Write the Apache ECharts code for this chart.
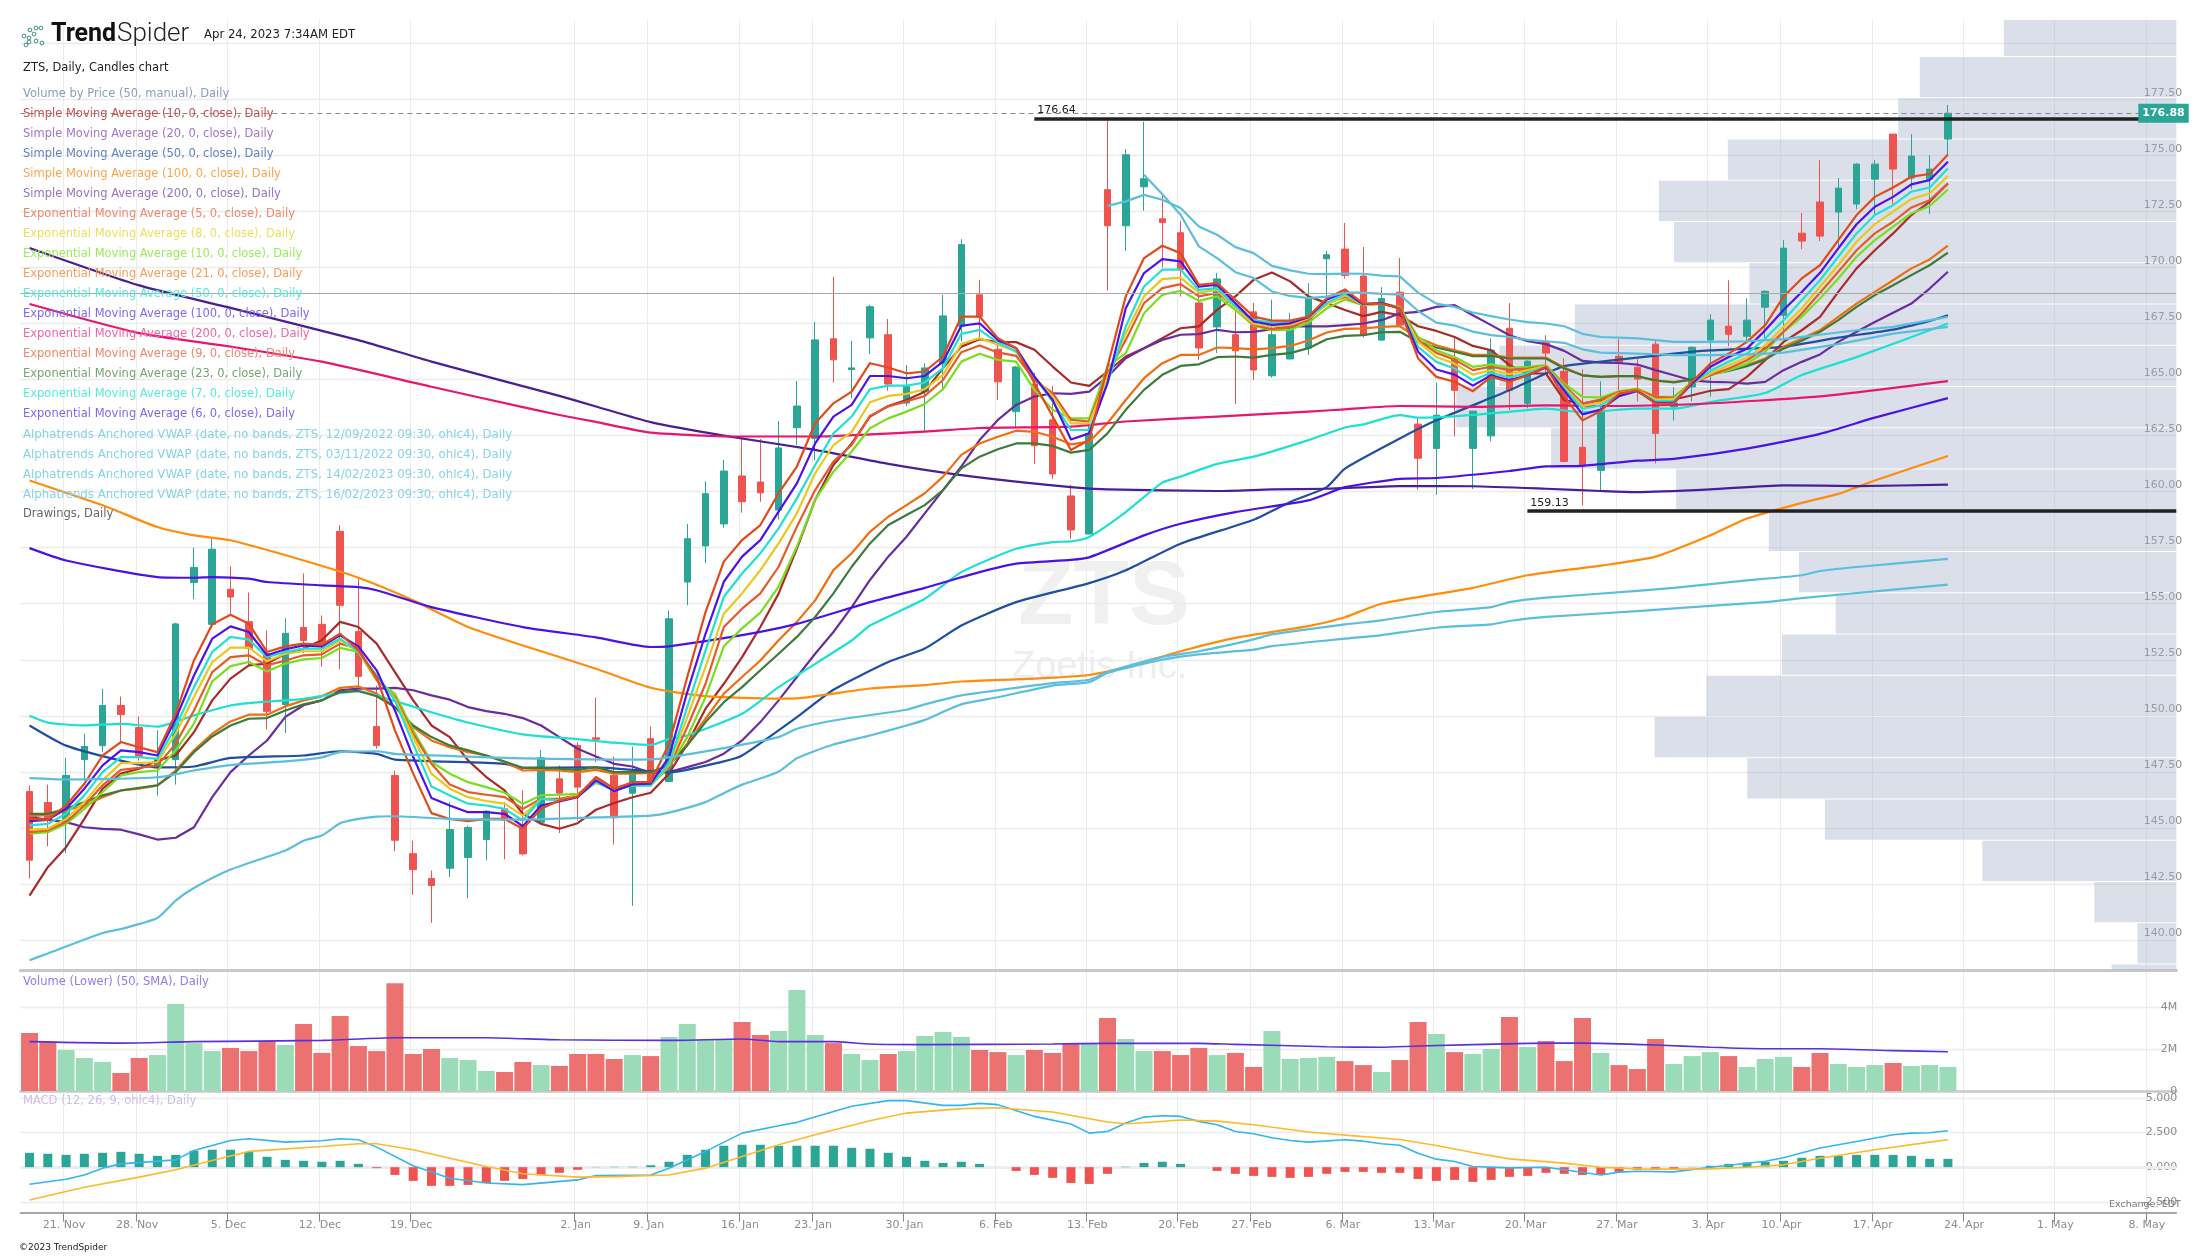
<!DOCTYPE html>
<html><head><meta charset="utf-8">
<style>html,body{margin:0;padding:0;background:#fff}#c{width:2207px;height:1259px}</style>
<script src="https://cdn.jsdelivr.net/npm/echarts@6/dist/echarts.min.js"></script>
</head><body><div id="c"></div>
<script>
const categories=["Nov 17","Nov 18","Nov 21","Nov 22","Nov 23","Nov 25","Nov 28","Nov 29","Nov 30","Dec 1","Dec 2","Dec 5","Dec 6","Dec 7","Dec 8","Dec 9","Dec 12","Dec 13","Dec 14","Dec 15","Dec 16","Dec 19","Dec 20","Dec 21","Dec 22","Dec 23","Dec 27","Dec 28","Dec 29","Dec 30","Jan 3","Jan 4","Jan 5","Jan 6","Jan 9","Jan 10","Jan 11","Jan 12","Jan 13","Jan 17","Jan 18","Jan 19","Jan 20","Jan 23","Jan 24","Jan 25","Jan 26","Jan 27","Jan 30","Jan 31","Feb 1","Feb 2","Feb 3","Feb 6","Feb 7","Feb 8","Feb 9","Feb 10","Feb 13","Feb 14","Feb 15","Feb 16","Feb 17","Feb 21","Feb 22","Feb 23","Feb 24","Feb 27","Feb 28","Mar 1","Mar 2","Mar 3","Mar 6","Mar 7","Mar 8","Mar 9","Mar 10","Mar 13","Mar 14","Mar 15","Mar 16","Mar 17","Mar 20","Mar 21","Mar 22","Mar 23","Mar 24","Mar 27","Mar 28","Mar 29","Mar 30","Mar 31","Apr 3","Apr 4","Apr 5","Apr 6","Apr 10","Apr 11","Apr 12","Apr 13","Apr 14","Apr 17","Apr 18","Apr 19","Apr 20","Apr 21","Apr 24","Apr 25","Apr 26","Apr 27","Apr 28","May 1","May 2","May 3","May 4","May 5","May 8","May 9"];
const tickLabels={"Nov 21":"21. Nov","Nov 28":"28. Nov","Dec 5":"5. Dec","Dec 12":"12. Dec","Dec 19":"19. Dec","Jan 3":"2. Jan","Jan 9":"9. Jan","Jan 17":"16. Jan","Jan 23":"23. Jan","Jan 30":"30. Jan","Feb 6":"6. Feb","Feb 13":"13. Feb","Feb 21":"20. Feb","Feb 27":"27. Feb","Mar 6":"6. Mar","Mar 13":"13. Mar","Mar 20":"20. Mar","Mar 27":"27. Mar","Apr 3":"3. Apr","Apr 10":"10. Apr","Apr 17":"17. Apr","Apr 24":"24. Apr","May 1":"1. May","May 8":"8. May"};
// open, close, low, high
const candles=[[146.62,143.56,142.75,146.89],[146.13,145.33,144.18,146.93],[145.33,147.34,143.87,148.12],[148.05,148.63,147.1,149.2],[148.67,150.46,148.38,151.2],[150.46,150.06,148.75,150.86],[149.48,148.19,148,149.97],[147.7,148.1,146.44,149.35],[148.05,154.1,146.93,154.15],[155.95,156.62,155.2,157.5],[154.08,157.43,153.9,157.9],[155.64,155.3,154.55,156.67],[154.2,153,152.2,155.5],[152.77,150.2,149.39,153.8],[150.5,153.68,149.23,154.35],[153.94,153.36,152.8,156.35],[154.08,153.14,152.2,154.48],[158.23,154.93,152.08,158.5],[153.76,151.76,151.3,156.1],[149.52,148.68,148.53,151.35],[147.34,144.45,143.96,147.56],[143.85,143.14,142.02,144.43],[142.74,142.43,140.77,143.1],[143.2,144.93,142.8,146.15],[143.68,145.02,141.86,145.1],[144.48,145.75,143.55,145.77],[145.85,145.33,143.6,146.15],[145.1,143.84,143.77,146.67],[145.25,148.13,145.2,148.48],[147.19,146.55,144.77,147.78],[148.68,146.82,145.33,148.82],[149.02,148.95,147.93,150.82],[147.34,145.45,144.26,148.18],[146.55,147.41,141.53,148.63],[148.98,147.04,147.04,149.52],[147.07,154.33,147.05,154.7],[155.97,157.9,154.93,158.55],[157.58,159.91,156.82,160.46],[158.56,160.92,158.39,161.41],[160.7,159.55,159.06,162.35],[160.43,159.95,159.55,162.35],[159.18,161.95,158.76,163.15],[162.85,163.82,162.08,164.94],[162.38,166.77,161.4,167.57],[166.82,165.88,164.87,169.58],[165.45,165.52,164.17,166.73],[166.86,168.25,166.14,168.33],[167,164.8,164.5,167.7],[163.95,164.72,163.82,165.65],[164.46,165.52,162.68,165.73],[165.7,167.84,164.54,168.78],[167.37,171.02,166.7,171.26],[168.78,167.8,166.8,169.45],[166.35,164.9,164.09,166.85],[163.57,165.56,162.83,165.6],[164.8,162.05,161.24,165.3],[163.2,160.79,160.57,164.72],[159.81,158.29,157.89,160.3],[158.11,162.6,158.1,163.28],[173.47,171.86,168.97,176.56],[171.86,175.03,170.74,175.28],[173.6,173.96,172.53,176.5],[172.17,172,170,173.29],[171.55,169.9,168.7,172.08],[168.42,166.41,165.88,169.3],[167.35,169.49,166.18,169.76],[167,166.28,163.91,168.08],[168.02,165.43,164.98,168.42],[165.17,167,165.09,168.56],[165.92,167.5,165.9,167.96],[166.4,168.63,166.1,169.3],[170.39,170.57,168.7,170.74],[170.82,169.64,169.5,171.99],[169.62,166.98,166.87,170.91],[166.76,168.62,166.73,169.12],[168.9,167.43,167.4,170.42],[163.01,161.49,160.09,163.29],[161.93,163.41,159.85,164.87],[165.94,164.52,162.47,166.89],[161.93,163.59,160.12,163.6],[162.49,166.31,162.25,166.84],[167.29,164.52,163.63,168.41],[163.94,165.82,163.72,165.86],[166.67,166.18,165.27,166.98],[165.37,161.35,161.31,165.95],[161.98,161.18,159.39,165.46],[160.95,163.6,160.06,164.93],[166.04,165.77,164.52,166.8],[165.55,165.02,164.03,165.91],[166.58,162.6,161.26,166.8],[163.78,163.96,163.18,164.66],[164.67,166.44,164.03,166.49],[166.76,167.65,164.23,167.92],[167.38,167.02,166.49,169.43],[166.93,167.65,166.7,168.63],[168.23,168.94,166.77,168.98],[167.87,170.86,166.76,171.22],[171.53,171.18,170.82,172.43],[172.92,171.4,171.18,174.79],[172.47,173.54,170.92,173.99],[172.83,174.61,172.6,174.66],[173.94,174.61,172.34,174.79],[175.95,174.39,172.83,175.95],[173.99,174.97,173.5,175.95],[173.94,174.39,172.38,175.01],[175.73,176.88,175,177.25]];
const sma10=[141.98,143.25,144.14,145.4,146.75,147.42,147.64,148.01,148.23,149.27,150.69,151.66,152.25,152.33,152.77,153,153.37,154.19,153.96,153.22,151.95,150.69,149.57,149.05,148.01,147.27,146.67,145.63,145.18,144.96,145.21,145.81,146.11,146.37,146.57,147.42,148.75,150.32,151.43,152.62,153.96,155.45,157.46,159.63,161.19,162.15,163.35,163.82,164.09,164.46,165.51,166.47,166.8,166.67,166.67,166.33,165.58,164.87,164.72,165.36,166.03,166.4,166.85,167.29,167.37,168.11,168.71,169.45,169.78,169.38,168.71,168.41,168.1,167.83,168.02,167.87,167.38,167.17,166.9,166.5,166.31,165.64,165.27,165.27,164.08,163.93,164.08,164.3,164.52,164.23,164.11,164.3,164.5,164.57,165.12,165.86,166.68,167.2,167.8,168.91,169.96,170.77,171.52,172.34,172.93,173.75];
const sma20=[145.48,145.36,145.26,145.03,144.96,144.92,144.71,144.48,144.56,145.03,146.37,147.49,148.23,148.9,149.95,150.47,150.69,151.14,151.21,151.21,151.25,151.14,150.91,150.72,150.39,150.21,150.09,149.9,149.57,149.05,148.53,148.19,147.86,147.74,147.45,147.49,147.71,147.94,148.31,148.9,149.72,150.69,151.73,152.77,153.74,154.85,156.06,157.1,157.99,159.03,160.07,161.12,162.3,163.2,163.87,164.24,164.39,164.36,164.46,165.13,165.95,166.4,166.77,167,167.03,167.22,167.11,167.13,167.25,167.37,167.37,167.37,167.43,167.5,167.65,167.95,168.02,168.24,168.32,167.87,167.43,166.98,166.71,166.58,166.28,165.83,165.76,165.74,165.67,165.42,165.19,164.96,164.9,164.88,164.82,164.9,165.42,165.79,166.12,166.68,167.13,167.57,167.98,168.39,169.06,169.81];
const ema5=[145.4,145.36,146,146.97,148.23,148.83,148.6,148.38,150.09,152.47,154.08,154.51,154.11,152.85,153.1,153.22,153.17,153.66,152.92,151.73,149.35,147.42,145.66,145.4,145.3,145.4,145.4,144.96,145.85,146.22,146.4,147.27,146.75,147.04,147.04,148.75,151.73,154.63,156.88,157.84,158.51,159.93,161.12,163.05,163.94,164.46,165.73,165.54,165.28,165.36,166.03,167.81,167.81,166.85,166.4,164.84,163.35,161.86,162.3,165.58,168.71,170.42,170.97,170.64,169.23,169.3,168.56,167.81,167.63,167.63,167.81,168.63,169.02,168.39,168.39,168.17,165.94,165.12,164.9,164.48,165.12,164.9,165.19,165.57,164.23,163.18,163.6,164.37,164.52,163.93,163.93,164.9,165.71,166.16,166.68,167.43,168.69,169.51,170.1,171.22,172.34,173.15,173.57,174.05,174.17,175.04];
const ema6=[145.3,145.36,145.85,146.75,147.79,148.46,148.38,148.23,149.87,151.8,153.44,153.99,153.74,152.7,152.97,153.14,153.1,153.59,153.1,152.03,150.24,148.16,146.33,146,145.7,145.7,145.63,145.08,146,146.18,146.37,147.12,146.64,146.94,146.97,148.16,151.06,153.66,155.98,157.1,157.84,159.11,160.37,162.15,163.35,163.87,165.16,165.16,165.06,165.16,165.8,167.4,167.51,166.77,166.4,165.13,164.09,162.33,162.6,164.84,168.18,169.75,170.37,170.27,169.15,169.23,168.41,167.59,167.44,167.51,167.78,168.56,168.91,168.36,168.42,168.17,166.24,165.45,165.22,164.73,165.19,164.97,165.19,165.54,164.52,163.45,163.66,164.26,164.49,163.96,163.97,164.82,165.57,166.01,166.38,167.2,168.1,168.91,169.76,170.85,171.93,172.71,173.15,173.71,173.9,174.72];
const ema7=[145.11,145.18,145.63,146.45,147.49,148.16,148.16,148.08,149.5,151.28,152.85,153.52,153.4,152.62,152.85,153,153,153.44,152.85,151.8,150.69,148.75,146.85,146.45,146.08,146,145.85,145.33,146.3,146.22,146.4,147.04,146.67,146.9,146.9,147.86,150.39,152.92,155.31,156.35,157.25,158.36,159.7,161.19,162.6,163.35,164.57,164.73,164.73,164.87,165.51,167.04,167.22,166.65,166.25,165.13,164.02,162.75,162.75,164.84,167.37,169.15,169.9,169.9,169,169.08,168.26,167.66,167.54,167.59,167.78,168.41,168.84,168.35,168.42,168.17,166.46,165.79,165.49,164.97,165.3,165.09,165.3,165.57,164.6,163.7,163.85,164.35,164.49,164.03,164.05,164.82,165.39,165.79,166.16,166.83,167.65,168.54,169.43,170.48,171.52,172.34,172.78,173.38,173.57,174.42];
const ema8=[144.92,144.96,145.4,146.15,147.12,147.89,147.89,147.94,149.2,150.84,152.4,153.04,153.04,152.43,152.77,152.88,152.88,153.37,152.85,151.73,150.76,149.05,147.42,146.75,146.37,146.2,146.08,145.55,146.3,146.22,146.45,147,146.75,146.9,146.9,147.79,149.94,152.18,154.55,155.46,156.5,157.69,159.03,160.82,162.08,162.67,163.99,164.27,164.36,164.57,165.21,166.59,166.85,166.55,166.25,165.13,164.24,163.05,163.05,165.13,167.07,168.71,169.48,169.55,168.88,169,168.18,167.48,167.37,167.44,167.74,168.33,168.76,168.32,168.39,168.2,166.68,166.01,165.71,165.22,165.42,165.24,165.42,165.6,164.67,163.82,163.97,164.4,164.52,164.11,164.14,164.82,165.27,165.64,165.98,166.53,167.35,168.17,169.14,170.1,171.15,171.93,172.49,173.05,173.3,174.08];
const ema9=[144.81,144.89,145.26,146,146.9,147.59,147.68,147.79,148.75,150.24,151.95,152.62,152.7,152.25,152.47,152.7,152.74,153.22,153,151.61,150.84,149.2,147.86,146.94,146.6,146.48,146.37,145.85,146.3,146.3,146.45,147.24,146.75,147,147,147.71,149.5,151.43,153.96,154.78,155.46,156.65,158.44,160.07,161.34,162.08,163.38,163.8,164.02,164.27,164.98,166.22,166.52,166.21,166.06,164.98,164.39,163.2,163.13,165.28,166.77,168.41,169.08,169.26,168.71,168.86,168.26,167.44,167.25,167.34,167.66,168.41,168.69,168.32,168.39,168.21,166.76,166.19,165.89,165.42,165.57,165.42,165.49,165.6,164.75,163.93,164.11,164.45,164.55,164.23,164.18,164.82,165.19,165.49,165.86,166.38,167.13,167.95,168.87,169.81,170.77,171.52,172.04,172.68,173,173.75];
const ema10=[144.74,144.81,145.18,145.85,146.6,147.34,147.49,147.56,148.46,149.65,151.54,152.22,152.4,151.98,152.33,152.52,152.58,153.03,152.85,151.58,150.99,149.35,147.94,147.42,147.04,146.82,146.57,146.08,146.45,146.48,146.52,147.04,146.7,146.9,146.9,147.71,149.05,150.84,153.1,153.9,154.6,155.76,157.55,159.63,160.89,161.79,162.83,163.27,163.57,163.91,164.57,165.8,166.15,165.88,165.8,164.54,163.65,163.27,163.27,165.58,166.18,167.96,168.78,168.96,168.51,168.71,168.11,167.4,167.2,167.22,167.54,168.18,168.57,168.32,168.39,168.24,166.9,166.31,166.01,165.57,165.68,165.52,165.57,165.64,164.82,164.23,164.2,164.48,164.6,164.23,164.23,164.9,165.19,165.42,165.71,166.24,167.13,167.8,168.62,169.51,170.48,171.22,171.82,172.41,172.74,173.48];
const ema21=[145.51,145.58,145.78,146,146.37,146.67,146.75,146.9,147.56,148.46,149.2,149.75,150.05,150.05,150.42,150.69,150.87,151.25,151.31,150.99,150.39,149.5,148.9,148.6,148.38,148.23,147.94,147.56,147.59,147.56,147.49,147.59,147.42,147.42,147.45,147.79,148.75,149.87,150.99,151.73,152.47,153.37,154.19,155.15,156.5,157.25,158.21,158.88,159.4,159.93,160.67,161.64,162.15,162.45,162.72,162.67,162.45,162.11,162.23,163.05,164.09,165.06,165.73,166.1,166.1,166.43,166.4,166.35,166.4,166.5,166.74,167.1,167.26,167.28,167.35,167.38,166.86,166.53,166.31,166.1,166.1,165.98,165.98,165.98,165.54,165.19,165.12,165.15,165.15,164.94,164.9,165,165.27,165.45,165.64,165.94,166.46,166.83,167.2,167.8,168.39,168.91,169.43,169.96,170.36,170.97];
const ema23=[145.63,145.63,145.85,146.15,146.45,146.67,146.79,146.9,147.49,148.38,149.08,149.57,149.87,149.9,150.24,150.51,150.69,151.06,151.11,150.87,150.39,149.57,149.05,148.68,148.46,148.23,147.96,147.68,147.68,147.64,147.59,147.71,147.49,147.49,147.49,147.79,148.68,149.72,150.61,151.28,152.03,152.77,153.52,154.41,155.46,156.65,157.69,158.51,158.96,159.4,160.07,161.04,161.56,161.89,162.15,162.15,162.04,161.74,161.86,162.6,163.65,164.54,165.21,165.61,165.68,166,166.03,165.98,166.1,166.18,166.4,166.8,166.95,166.98,167.11,167.13,166.68,166.43,166.24,166.04,166.06,165.94,165.94,165.94,165.49,165.19,165.12,165.15,165.15,164.97,164.87,165.01,165.24,165.39,165.6,165.89,166.38,166.73,167.13,167.65,168.24,168.77,169.21,169.66,170.1,170.66];
// slower lines: [bar index, value] readings at the bends
const sma50=[[0,149.57],[2,148.67],[5,148],[7,147.7],[9,147.74],[11,148.12],[15,148.23],[17,148.42],[19,148.3],[20,148.05],[26,147.86],[27,147.68],[31,147.7],[35,147.48],[38,147.97],[39,148.23],[42,149.94],[44,151.16],[47,152.4],[49,153],[51,154.03],[54,155.07],[58,155.92],[60,156.49],[63,157.68],[67,158.75],[69,159.54],[71,160.2],[72,161.03],[75,162.37],[77,163.18],[81,164.52],[83,165.27],[84,165.6],[87,165.89],[90,166.16],[92,166.3],[94,166.38],[96,166.46],[99,166.87],[102,167.23],[104,167.62],[105,167.87]];
const sma100=[[0,160.5],[4,159.39],[7,158.42],[9,158.05],[11,157.83],[15,156.93],[18,156.16],[21,155.15],[24,153.96],[27,153.14],[31,152.1],[34,151.25],[37,150.88],[41,150.77],[42,150.78],[46,151.22],[49,151.37],[51,151.53],[54,151.63],[56,151.7],[58,151.82],[60,152.17],[63,152.88],[66,153.48],[70,154],[72,154.4],[74,155],[79,155.71],[82,156.27],[86,156.7],[89,157.1],[92,158.05],[94,158.8],[97,159.5],[99,159.9],[101,160.5],[105,161.59]];
const sma200=[[0,170.87],[6,169.2],[11,168.2],[18,166.76],[22,165.8],[29,164.27],[31,163.8],[34,163.1],[38,162.5],[43,161.86],[47,161.24],[51,160.74],[57,160.2],[59,160.1],[65,160.03],[68,160.1],[71,160.13],[75,160.25],[79,160.24],[83,160.13],[86,160.03],[88,159.98],[92,160.1],[96,160.28],[100,160.25],[105,160.31]];
const ema50=[[0,150],[1,149.7],[3,149.57],[5,149.64],[7,149.52],[9,150.02],[11,150.46],[12,150.57],[15,150.76],[18,151.1],[19,150.9],[22,150.16],[24,149.7],[27,149.17],[30,148.96],[32,148.8],[34,148.7],[35,148.97],[36,149.12],[39,150.09],[41,151.28],[45,153.36],[46,154.03],[49,155.22],[51,156.41],[54,157.45],[56,157.75],[57,157.78],[58,157.98],[60,159.09],[62,160.4],[63,160.67],[65,161.24],[67,161.56],[70,162.3],[72,162.86],[73,163],[75,163.41],[76,163.3],[78,163.36],[81,163.56],[83,163.7],[85,163.54],[88,163.7],[90,163.7],[92,164],[95,164.4],[97,165.2],[100,166],[105,167.5]];
const ema100=[[0,157.48],[2,156.93],[7,156.19],[9,156.16],[10,156.19],[12,156.12],[13,155.97],[16,155.82],[18,155.74],[19,155.6],[22,154.85],[27,153.96],[31,153.5],[34,153.07],[35,153.1],[39,153.6],[42,154.1],[46,155.07],[49,155.71],[52,156.41],[54,156.79],[57,156.96],[58,157.07],[61,158.05],[63,158.57],[66,159.09],[70,159.61],[72,160.2],[75,160.57],[77,160.61],[81,160.92],[83,161.13],[85,161.15],[88,161.38],[90,161.46],[94,161.92],[98,162.58],[101,163.3],[105,164.17]];
const ema200=[[0,168.37],[6,167.07],[11,166.47],[16,165.8],[22,164.68],[27,163.77],[29,163.42],[31,163.11],[34,162.63],[39,162.46],[43,162.46],[49,162.68],[52,162.84],[57,162.9],[60,163.13],[65,163.35],[70,163.57],[72,163.67],[75,163.82],[79,163.78],[83,163.85],[86,163.82],[91,163.9],[98,164.25],[105,164.93]];
const vwapDec=[[0,147.22],[2,147.16],[7,147.26],[9,147.56],[11,147.8],[14,147.97],[16,148.15],[17,148.38],[19,148.42],[20,148.3],[24,148.18],[27,148.1],[32,148.05],[34,148.06],[35,148.15],[38,148.56],[41,149.05],[42,149.42],[44,149.79],[48,150.27],[49,150.51],[51,150.91],[54,151.25],[56,151.46],[58,151.61],[59,151.95],[62,152.62],[64,152.88],[67,153.41],[68,153.63],[72,154.08],[74,154.26],[77,154.63],[80,154.85],[81,155.07],[83,155.27],[88,155.57],[90,155.71],[94,156.04],[97,156.27],[98,156.46],[100,156.64],[105,157]];
const vwapNov=[[0,139.1],[1,139.4],[4,140.31],[5,140.49],[7,140.98],[8,141.76],[9,142.32],[11,143.14],[14,143.99],[15,144.43],[16,144.66],[17,145.21],[18,145.4],[19,145.5],[20,145.52],[23,145.4],[27,145.37],[31,145.47],[34,145.55],[35,145.68],[37,146.15],[38,146.55],[39,146.93],[41,147.51],[42,148.11],[44,148.72],[46,149.12],[48,149.57],[49,149.82],[51,150.51],[53,150.83],[56,151.35],[58,151.5],[59,151.91],[62,152.5],[64,152.74],[67,152.95],[68,153.11],[72,153.44],[74,153.6],[77,153.93],[80,154.08],[81,154.23],[83,154.41],[88,154.67],[91,154.85],[95,155.07],[97,155.25],[99,155.4],[105,155.85]];
const vwapFeb14=[[59,172.75],[60,172.95],[61,173.24],[62,173.02],[63,172.65],[64,171.83],[65,171.46],[66,170.91],[67,170.64],[68,170.07],[69,169.87],[70,169.72],[71,169.7],[72,169.73],[73,169.72],[74,169.64],[75,169.6],[76,168.88],[77,168.39],[78,168.24],[79,167.99],[80,167.83],[81,167.68],[82,167.56],[83,167.5],[84,167.38],[85,167.04],[86,166.9],[87,166.87],[88,166.84],[89,166.76],[90,166.68],[92,166.68],[94,166.71],[96,166.8],[100,167.2],[102,167.35],[105,167.8]];
const vwapFeb16=[[61,174.14],[62,173.27],[63,172.35],[64,170.94],[65,170.42],[66,169.79],[67,169.53],[68,168.93],[69,168.73],[70,168.63],[71,168.7],[72,168.88],[73,168.88],[74,168.82],[75,168.79],[76,168.06],[77,167.54],[78,167.41],[79,167.14],[80,166.98],[81,166.9],[82,166.77],[83,166.71],[84,166.64],[85,166.35],[86,166.2],[88,166.16],[89,166.13],[90,166.09],[92,166.09],[94,166.12],[95,166.16],[96,166.2],[99,166.58],[102,167.05],[105,167.35]];
const volume=[2.77,2.36,1.96,1.58,1.39,.86,1.58,1.72,4.16,2.29,1.91,2.06,1.91,2.39,2.2,3.2,1.82,3.59,2.15,1.91,5.16,1.77,2.01,1.58,1.48,.96,.91,1.39,1.24,1.2,1.77,1.77,1.53,1.72,1.67,2.58,3.2,2.49,2.49,3.3,2.68,2.87,4.83,2.68,2.29,1.77,1.48,1.77,1.91,2.63,2.82,2.58,1.96,1.86,1.72,1.96,1.82,2.29,2.25,3.49,2.49,1.91,1.91,1.72,2.06,1.72,1.82,1.15,2.87,1.53,1.58,1.63,1.43,1.24,.91,1.48,3.3,2.73,1.86,1.77,2.01,3.54,2.1,2.39,1.43,3.49,1.82,1.24,1.05,2.49,1.29,1.67,1.86,1.67,1.15,1.53,1.63,1.15,1.82,1.29,1.15,1.24,1.34,1.2,1.24,1.15];
const volumeSma=[[0,2.36],[5,2.29],[9,2.36],[16,2.42],[20,2.55],[25,2.55],[29,2.45],[35,2.42],[39,2.49],[41,2.36],[44,2.36],[46,2.25],[49,2.22],[56,2.25],[59,2.28],[64,2.28],[66,2.23],[71,2.12],[74,2.09],[76,2.15],[82,2.28],[85,2.29],[89,2.2],[92,2.09],[95,2.02],[98,2.02],[102,1.93],[105,1.88]];
const macdHist=[1.04,.97,.89,.97,1.04,1.11,.97,.82,.89,1.18,1.26,1.26,1.11,.75,.53,.46,.39,.46,.24,-.07,-.56,-.99,-1.35,-1.35,-1.28,-1.14,-.99,-.85,-.58,-.41,-.19,.02,.03,.03,.14,.39,.89,1.26,1.55,1.62,1.62,1.55,1.55,1.55,1.55,1.4,1.33,1.04,.75,.46,.31,.39,.24,0,-.27,-.56,-.77,-1.14,-1.21,-.48,.03,.31,.39,.24,0,-.27,-.48,-.63,-.7,-.77,-.7,-.48,-.34,-.34,-.41,-.41,-.85,-.99,-.92,-1.06,-.92,-.7,-.63,-.41,-.48,-.56,-.56,-.34,-.19,-.19,-.19,.02,.1,.24,.34,.39,.46,.68,.82,.82,.89,.89,.89,.82,.6,.6];
const macdLine=[[0,-1.23],[2,-.87],[3,-.56],[4,-.07],[5,.24],[8,.53],[9,1.2],[11,1.93],[12,2.05],[14,1.81],[16,1.91],[17,2.05],[18,1.98],[19,1.45],[21,.1],[23,-.8],[25,-1.14],[27,-1.26],[30,-.92],[31,-.6],[34,-.56],[35,-.07],[37,1.14],[39,2.46],[41,3],[42,3.24],[45,4.4],[47,4.81],[48,4.81],[50,4.47],[51,4.47],[52,4.61],[53,4.52],[55,3.67],[57,3.12],[58,2.46],[59,2.58],[60,3.19],[61,3.62],[62,3.72],[63,3.67],[64,3.31],[65,3.07],[66,2.58],[67,2.42],[68,2.13],[69,1.93],[70,1.81],[72,1.98],[73,1.88],[74,1.69],[75,1.59],[76,1.01],[77,.58],[78,.41],[79,.05],[81,-.05],[83,0],[84,-.19],[86,-.56],[87,-.36],[88,-.29],[90,-.34],[92,0],[93,.14],[95,.43],[96,.68],[98,1.38],[100,1.86],[102,2.34],[103,2.46],[104,2.49],[105,2.63]];
const macdSignal=[[0,-2.37],[2,-1.76],[3,-1.45],[6,-.72],[8,-.19],[10,.48],[12,1.14],[16,1.5],[18,1.69],[19,1.69],[21,1.26],[23,.65],[25,.05],[27,-.48],[30,-.72],[32,-.68],[35,-.56],[37,-.07],[39,.77],[41,1.62],[43,2.34],[46,3.36],[48,3.91],[51,4.23],[53,4.3],[56,3.99],[59,3.26],[60,3.14],[61,3.21],[63,3.41],[65,3.33],[67,3.07],[70,2.54],[72,2.32],[75,2],[77,1.57],[79,1.06],[81,.6],[84,.29],[86,0],[88,-.12],[90,-.14],[92,-.12],[94,0],[96,.17],[98,.65],[101,1.26],[104,1.81],[105,1.98]];
const vbpLow=[137.11,138.95,140.79,142.63,144.47,146.31,148.15,149.99,151.83,153.67,155.51,157.35,159.19,161.03,162.87,164.71,166.55,168.39,170.23,172.07,173.91,175.75,177.59,179.43];
const vbpShare=[3,1.8,3.8,9,16.3,19.9,24.2,21.8,18.3,15.8,17.5,18.9,23.2,29,33.4,31.4,27.9,19.8,23.3,24,20.8,12.9,11.9,8];
const priceTicks=[140,142.5,145,147.5,150,152.5,155,157.5,160,162.5,165,167.5,170,172.5,175,177.5];
const macdTicks=[-2.5,0,2.5,5];
const legendLabels=[["Volume by Price (50, manual), Daily","#8b9dbd"],["Simple Moving Average (10, 0, close), Daily","#c4514f"],["Simple Moving Average (20, 0, close), Daily","#a374c9"],["Simple Moving Average (50, 0, close), Daily","#5f83c2"],["Simple Moving Average (100, 0, close), Daily","#ffa44a"],["Simple Moving Average (200, 0, close), Daily","#9273c1"],["Exponential Moving Average (5, 0, close), Daily","#f2866a"],["Exponential Moving Average (8, 0, close), Daily","#ebdf5c"],["Exponential Moving Average (10, 0, close), Daily","#9aec58"],["Exponential Moving Average (21, 0, close), Daily","#f99c58"],["Exponential Moving Average (50, 0, close), Daily","#55e9da"],["Exponential Moving Average (100, 0, close), Daily","#8166f2"],["Exponential Moving Average (200, 0, close), Daily","#f264a3"],["Exponential Moving Average (9, 0, close), Daily","#f2866a"],["Exponential Moving Average (23, 0, close), Daily","#75a575"],["Exponential Moving Average (7, 0, close), Daily","#55ecda"],["Exponential Moving Average (6, 0, close), Daily","#8166f2"],["Alphatrends Anchored VWAP (date, no bands, ZTS, 12/09/2022 09:30, ohlc4), Daily","#85d3e9"],["Alphatrends Anchored VWAP (date, no bands, ZTS, 03/11/2022 09:30, ohlc4), Daily","#85d3e9"],["Alphatrends Anchored VWAP (date, no bands, ZTS, 14/02/2023 09:30, ohlc4), Daily","#85d3e9"],["Alphatrends Anchored VWAP (date, no bands, ZTS, 16/02/2023 09:30, ohlc4), Daily","#85d3e9"],["Drawings, Daily","#666666"]];

const UP='#2aa596',DOWN='#ef5350',FONT='"DejaVu Sans"',GRID='#ececec',AXT='#8c8c8c';
const hasTick=(i,v)=>!!tickLabels[v];
const mainLine=(name,data,color,smooth)=>({name,type:'line',xAxisIndex:1,yAxisIndex:1,data,showSymbol:false,silent:true,z:3,clip:true,smooth:smooth||false,lineStyle:{color,width:2.2,join:'round'}});
const series=[
 {name:'Volume by Price',type:'custom',xAxisIndex:2,yAxisIndex:1,z:1,silent:true,clip:true,
  data:vbpLow.map((p,i)=>[vbpShare[i],p,i<vbpLow.length-1?vbpLow[i+1]:p+1.84]),
  renderItem:(params,api)=>{const a=api.coord([api.value(0),api.value(2)]),b=api.coord([0,api.value(1)]);
    return {type:'rect',shape:{x:a[0],y:a[1]+1,width:b[0]-a[0],height:b[1]-a[1]-1},style:{fill:'rgba(166,179,204,0.42)'}};}},
 {name:'ZTS',type:'candlestick',xAxisIndex:1,yAxisIndex:1,data:candles,barWidth:7,z:2,silent:true,
  itemStyle:{color:UP,color0:DOWN,borderColor:UP,borderColor0:DOWN,borderWidth:1},
  markLine:{silent:true,symbol:'none',animation:false,data:[
    {yAxis:168.85,lineStyle:{color:'#a8a8a8',type:'solid',width:1},label:{show:false}},
    {yAxis:176.88,lineStyle:{color:'#8a8a8a',type:[5,4],width:1.2},label:{show:true,position:'end',distance:-38,formatter:'176.88',color:'#fff',fontFamily:FONT,fontSize:11,fontWeight:'bold',backgroundColor:UP,padding:[4,4]}}]}},
 mainLine('SMA 10',sma10,'#a82b2b'),
 mainLine('SMA 20',sma20,'#6a2c9e'),
 mainLine('SMA 50',sma50,'#1f4f9e',0.2),
 mainLine('SMA 100',sma100,'#ff8c0a',0.2),
 mainLine('SMA 200',sma200,'#4a1e94',0.2),
 mainLine('EMA 21',ema21,'#ee6f10'),
 mainLine('EMA 50',ema50,'#1de0d2',0.2),
 mainLine('EMA 100',ema100,'#4b12e6',0.2),
 mainLine('EMA 200',ema200,'#e8166f',0.2),
 mainLine('EMA 23',ema23,'#3e7a3c'),
 mainLine('EMA 10',ema10,'#78de1e'),
 mainLine('EMA 9',ema9,'#e55a2a'),
 mainLine('EMA 8',ema8,'#e9c81e'),
 mainLine('EMA 7',ema7,'#22e0d2'),
 mainLine('EMA 6',ema6,'#4b12ea'),
 mainLine('EMA 5',ema5,'#e2491c'),
 mainLine('VWAP 12/09',vwapDec,'#5bbfdc',0.2),
 mainLine('VWAP 03/11',vwapNov,'#5bbfdc',0.2),
 mainLine('VWAP 14/02',vwapFeb14,'#5bbfdc'),
 mainLine('VWAP 16/02',vwapFeb16,'#5bbfdc'),
 {name:'Drawings',type:'line',xAxisIndex:2,yAxisIndex:1,data:[],z:5,silent:true,
  markLine:{silent:true,symbol:'none',animation:false,z:5,lineStyle:{color:'#222',type:'solid',width:3.6},
   label:{show:true,position:'insideStartTop',formatter:'{b}',color:'#222',fontFamily:FONT,fontSize:11,distance:3},
   data:[[{name:'176.64',coord:[52.97,176.64]},{coord:[0,176.64]}],[{name:'159.13',coord:[30.1,159.13]},{coord:[0,159.13]}]]}},
 {name:'Volume',type:'bar',xAxisIndex:3,yAxisIndex:2,barWidth:17,silent:true,
  data:volume.map((v,i)=>({value:v,itemStyle:{color:candles[i][1]>=candles[i][0]?'#9adcb8':'#ec7272'}}))},
 {name:'Volume SMA',type:'line',xAxisIndex:3,yAxisIndex:2,data:volumeSma,smooth:0.2,showSymbol:false,silent:true,z:3,lineStyle:{color:'#5a2fe0',width:1.6}},
 {name:'MACD histogram',type:'bar',xAxisIndex:4,yAxisIndex:3,barWidth:9,silent:true,
  data:macdHist.map(v=>({value:v,itemStyle:{color:v>=0?UP:DOWN}})),
  markLine:{silent:true,symbol:'none',animation:false,z:1,data:[{yAxis:0}],label:{show:false},lineStyle:{color:'#ecedf4',width:3,type:'solid'}}},
 {name:'MACD',type:'line',xAxisIndex:4,yAxisIndex:3,data:macdLine,showSymbol:false,silent:true,z:3,lineStyle:{color:'#33b5ee',width:1.6}},
 {name:'Signal',type:'line',xAxisIndex:4,yAxisIndex:3,data:macdSignal,showSymbol:false,silent:true,z:3,lineStyle:{color:'#fdb92b',width:1.6}},
];
const logoNodes=[[24,36],[30,30],[36,28],[41,28],[34,34],[29,38],[36,41],[42,43],[26,45],[29,42]];
const graphic=[
 {type:'text',left:1018,top:553,z:0,silent:true,style:{text:'ZTS',fill:'#f0f0f0',font:'bold 91px "Liberation Sans"'}},
 {type:'text',left:1012,top:649,z:0,silent:true,style:{text:'Zoetis Inc.',fill:'#eeeeee',font:'38px "Liberation Sans"'}},
 {type:'text',left:51,top:22,z:9,silent:true,style:{text:'Trend',fill:'#111',font:'bold 25px Roboto'}},
 {type:'text',left:117,top:21,z:9,silent:true,style:{text:'Spider',fill:'#222',font:'300 26px Roboto'}},
 {type:'text',left:204,top:29,z:9,silent:true,style:{text:'Apr 24, 2023 7:34AM EDT',fill:'#222',font:'11.7px '+FONT}},
 {type:'text',left:23,top:62,z:9,silent:true,style:{text:'ZTS, Daily, Candles chart',fill:'#222',font:'11.5px '+FONT}},
 {type:'text',left:19,top:1243,z:9,silent:true,style:{text:'©2023 TrendSpider',fill:'#222',font:'9px '+FONT}},
 {type:'text',left:23,top:976,z:9,silent:true,style:{text:'Volume (Lower) (50, SMA), Daily',fill:'#8f7bf2',font:'11.5px '+FONT}},
 {type:'text',left:23,top:1095,z:9,silent:true,style:{text:'MACD (12, 26, 9, ohlc4), Daily',fill:'#cdbfe8',font:'11.5px '+FONT}},
 {type:'text',left:2109,top:1200,z:9,silent:true,style:{text:'Exchange: EDT',fill:'#777',font:'9.5px '+FONT}},
 ...legendLabels.map((l,i)=>({type:'text',left:23,top:88.5+i*20,z:9,silent:true,style:{text:l[0],fill:l[1],font:(l[0].startsWith('Alpha')?'11.77px ':'11.5px ')+FONT}})),
 ...logoNodes.map(n=>({type:'circle',z:9,silent:true,shape:{cx:n[0],cy:n[1],r:1.9},style:{fill:'none',stroke:'#3d8f7f',lineWidth:1}})),
];
const option={
 animation:false,backgroundColor:'#fff',
 grid:[
  {left:26.5,width:2137.6,top:20,height:1192.7},
  {left:20.4,width:2155.9,top:20,height:950.7},
  {left:20.4,width:2155.9,top:971,height:120},
  {left:20.4,width:2155.9,top:1098,height:114.7}],
 xAxis:[
  {type:'category',gridIndex:0,data:categories,boundaryGap:false,axisLine:{show:false},
   axisTick:{show:true,interval:hasTick,length:9,lineStyle:{color:'#888',width:1}},
   splitLine:{show:true,interval:hasTick,lineStyle:{color:GRID,width:1}},
   axisLabel:{interval:hasTick,margin:-4,hideOverlap:false,color:AXT,fontFamily:FONT,fontSize:11,verticalAlign:'top',padding:[11,0,0,2],formatter:v=>tickLabels[v]||''}},
  {type:'category',gridIndex:1,data:categories,axisLine:{show:true,onZero:false,lineStyle:{color:'#c9c9c9',width:3}},axisTick:{show:false},axisLabel:{show:false},splitLine:{show:false}},
  {type:'value',gridIndex:1,position:'top',inverse:true,min:0,max:100,show:false,splitLine:{show:false}},
  {type:'category',gridIndex:2,data:categories,axisLine:{show:true,onZero:false,lineStyle:{color:'#c9c9c9',width:2.5}},axisTick:{show:false},axisLabel:{show:false},splitLine:{show:false}},
  {type:'category',gridIndex:3,data:categories,axisLine:{show:true,onZero:false,lineStyle:{color:'#8a8a8a',width:1.5}},axisTick:{show:false},axisLabel:{show:false},splitLine:{show:false}}],
 yAxis:[
  {type:'value',gridIndex:0,min:0,max:1,show:false,splitLine:{show:false}},
  {type:'value',gridIndex:1,position:'right',min:138.63,max:181.04,axisLine:{show:false},
   axisTick:{show:false,customValues:priceTicks.concat([180])},splitLine:{show:true,lineStyle:{color:GRID,width:1.4}},
   axisLabel:{customValues:priceTicks,align:'right',margin:6,verticalAlign:'bottom',lineHeight:13,color:AXT,fontFamily:FONT,fontSize:11,formatter:v=>v.toFixed(2)}},
  {type:'value',gridIndex:2,position:'right',min:0,max:5.74,interval:2,axisLine:{show:false},axisTick:{show:false},
   splitLine:{show:true,lineStyle:{color:GRID,width:1.4}},
   axisLabel:{align:'right',margin:1,showMaxLabel:false,color:AXT,fontFamily:FONT,fontSize:11,formatter:v=>v?v+'M':'0'}},
  {type:'value',gridIndex:3,position:'right',min:-3.29,max:5,axisLine:{show:false},
   axisTick:{show:false,customValues:macdTicks},splitLine:{show:true,lineStyle:{color:GRID,width:1.4}},
   axisLabel:{customValues:macdTicks,align:'right',margin:1,color:AXT,fontFamily:FONT,fontSize:11,formatter:v=>v.toFixed(3)}}],
 series,graphic};
echarts.init(document.getElementById('c'),null,{renderer:'canvas'}).setOption(option);
</script></body></html>
